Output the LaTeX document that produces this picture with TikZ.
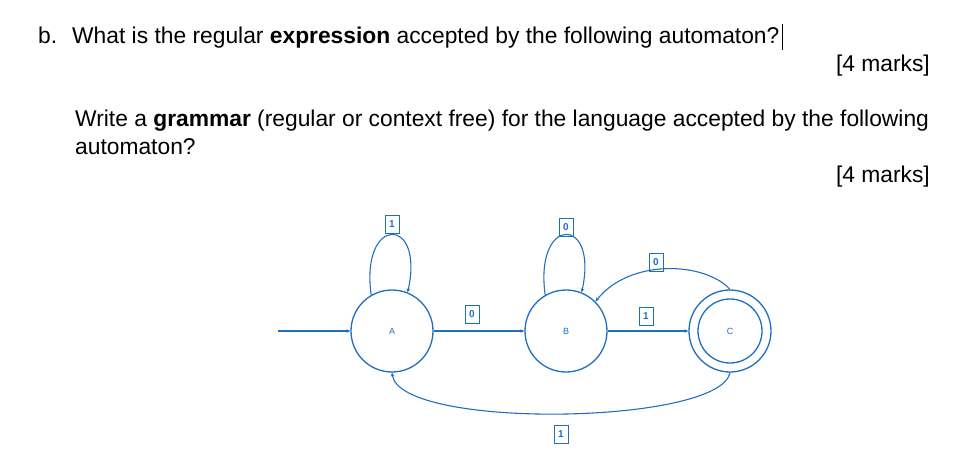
\documentclass[tikz,border=0pt]{standalone}
\usepackage{fontspec}
\setmainfont{Liberation Sans}
\usetikzlibrary{arrows.meta}
\definecolor{ab}{HTML}{1F6FC0}
\begin{document}
\begin{tikzpicture}[x=1pt,y=-1pt,
  st/.style={circle,draw=ab,line width=1.3pt,minimum size=82pt,inner sep=0pt,text=ab,font=\fontsize{9}{10}\selectfont},
  lb/.style={draw=ab,line width=0.9pt,text=ab,font=\fontsize{10}{11}\selectfont\bfseries,minimum width=14pt,minimum height=18pt,inner sep=1pt},
  ed/.style={draw=ab,line width=1.1pt,-{Stealth[length=4pt,width=3.5pt]}},
  tx/.style={anchor=base west,inner sep=0pt,font=\fontsize{22.8}{27}\selectfont}]
\useasboundingbox (0,0) rectangle (977,473);
\node[tx] (q1) at (38,44) {b.\hspace{15pt}What is the regular \textbf{expression} accepted by the following automaton?};
\draw[line width=0.8pt] (q1.base east)++(3,6) coordinate (c1) -- ++(0,-26) coordinate (c2);
\node[tx,anchor=base east] (m1) at (930,72) {[4 marks]};
\node[tx] (q2) at (75,127) {Write a \textbf{grammar} (regular or context free) for the language accepted by the following};
\node[tx] (q3) at (75,155) {automaton?};
\node[tx,anchor=base east] (m2) at (930,183) {[4 marks]};
\node[st] (A) at (392,331) {A};
\node[st] (B) at (566,331) {B};
\node[st] (C) at (730,331) {C};
\node[circle,draw=ab,line width=1.3pt,minimum size=64pt] (Ci) at (C) {};
\coordinate (s) at (278,331);
\draw[ed] (s) -- (A);
\draw[ed] (A) -- (B);
\draw[ed] (B) -- (C);
\draw[ed] (A.120) .. controls (360,215) and (425,215) .. (A.68);
\draw[ed] (B.120) .. controls (534,215) and (599,215) .. (B.68);
\draw[ed] (C.90) .. controls (705,262) and (630,258) .. (B.45);
\draw[ed] (C.270) .. controls (720,425) and (400,430) .. (A.270);
\node[lb] (l1) at (392,224) {1};
\node[lb] (l2) at (566,227) {0};
\node[lb] (l3) at (656,262) {0};
\node[lb] (l4) at (472,314) {0};
\node[lb] (l5) at (646,316) {1};
\node[lb] (l6) at (561,434) {1};
\end{tikzpicture}
\end{document}
